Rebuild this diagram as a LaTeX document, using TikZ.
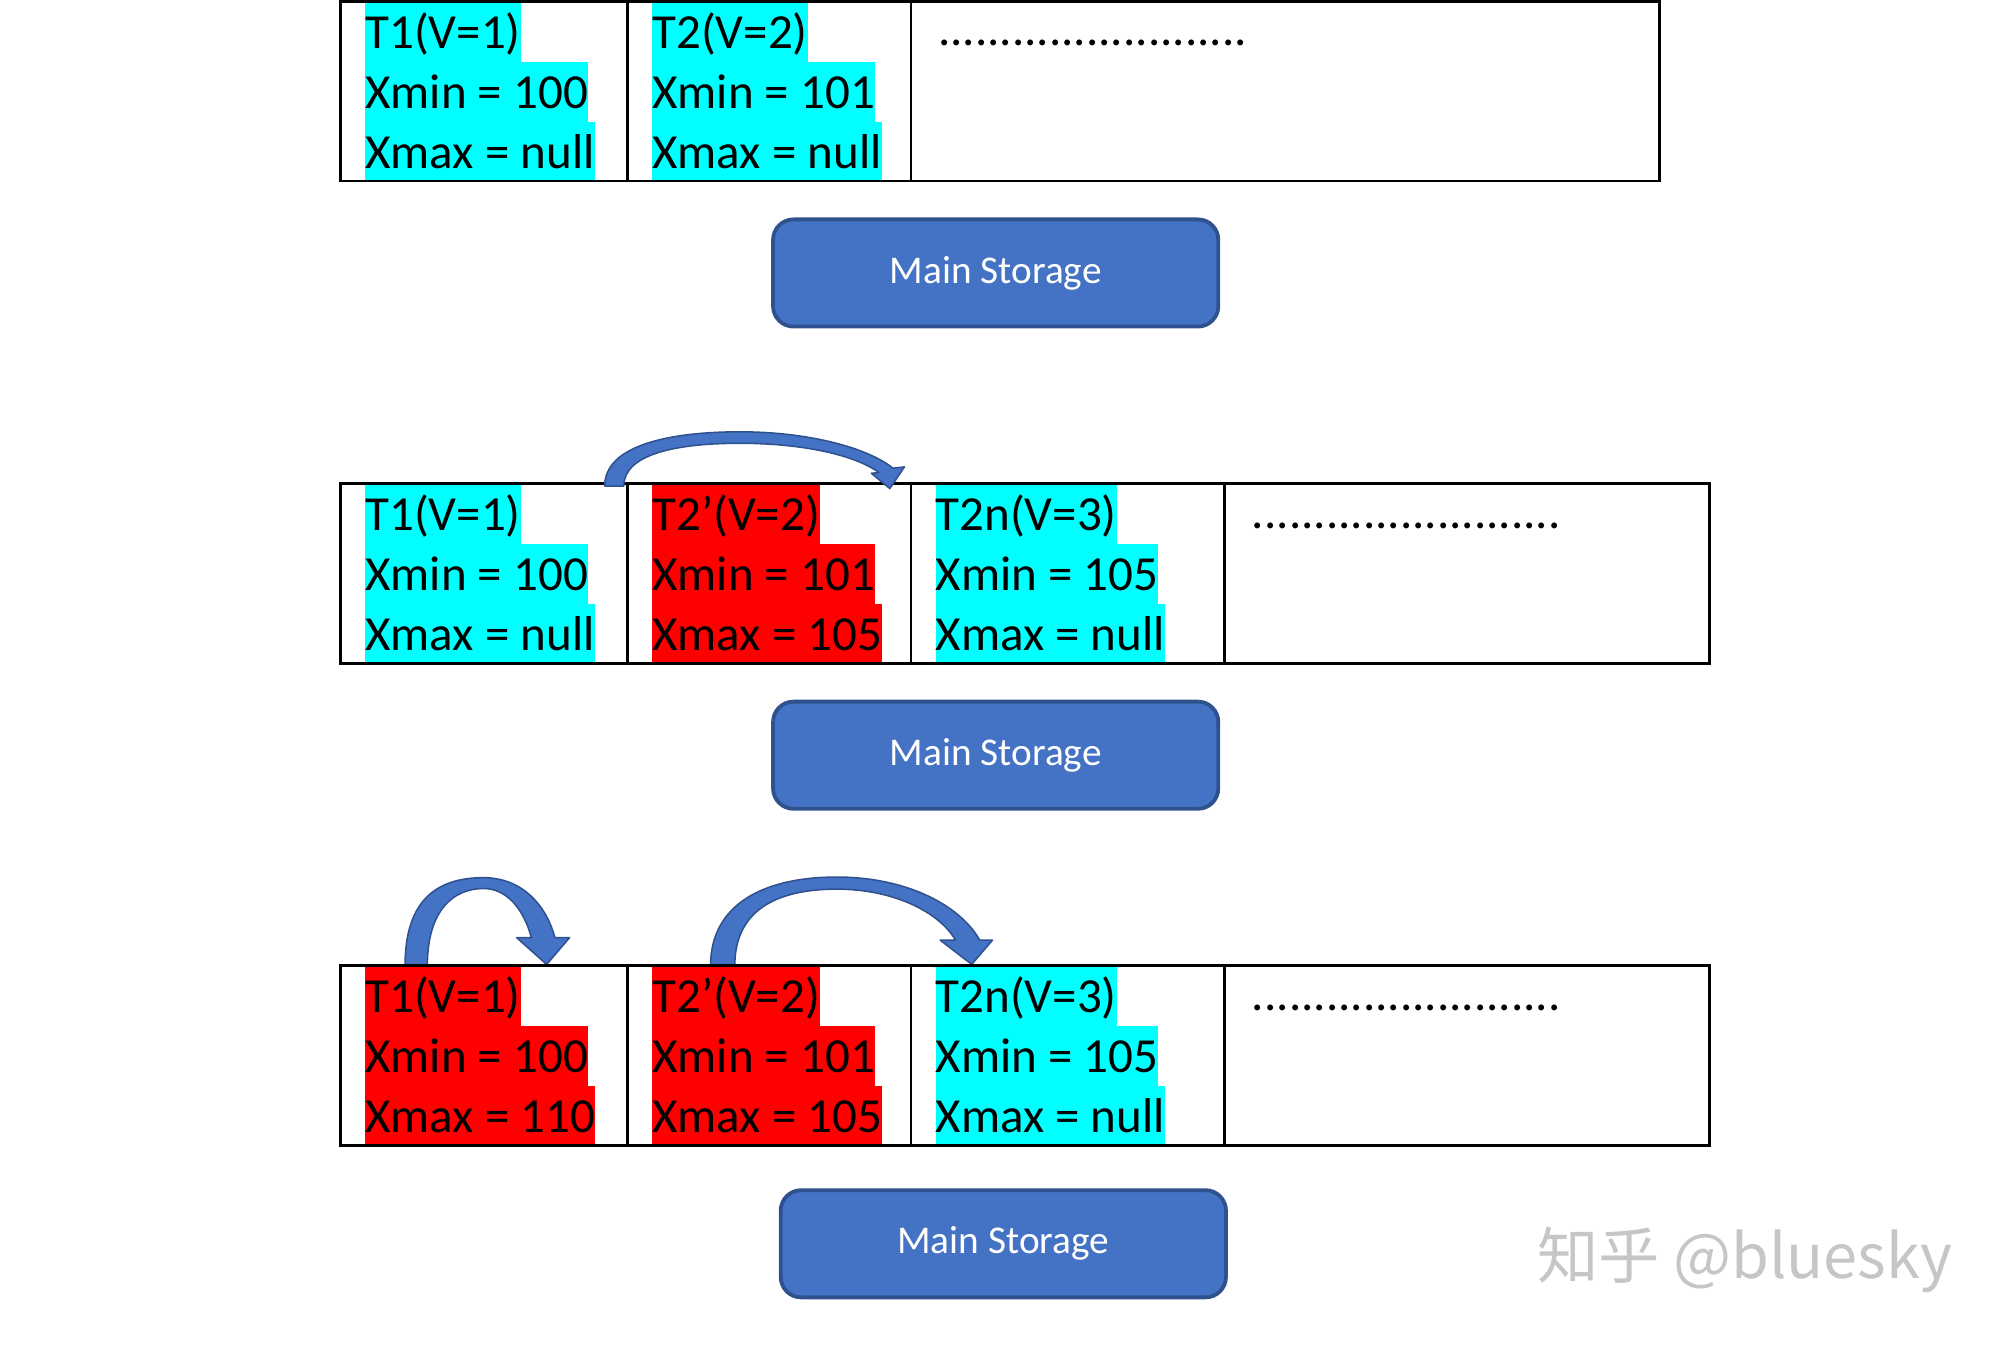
\documentclass[tikz,border=0pt]{standalone}
\usepackage{fontspec}
\setmainfont{Carlito}
\newfontfamily\cjkfont{Noto Sans CJK SC}
\definecolor{msblue}{HTML}{4472C4}
\definecolor{msedge}{HTML}{2F528F}
\definecolor{hlcyan}{RGB}{0,255,255}
\definecolor{hlred}{RGB}{255,0,0}
\begin{document}
\begin{tikzpicture}[x=0.5pt,y=-0.5pt,
  hl/.style={anchor=north west, inner sep=0pt, text height=18.2pt, text depth=5.3pt, font=\fontsize{19.2}{23.5}\selectfont},
  cy/.style={hl, fill=hlcyan},
  rd/.style={hl, fill=hlred},
  rowbox/.style={draw=black, line width=1pt},
  storage/.style={draw=msedge, fill=msblue, line width=1.5pt, rounded corners=8pt, minimum width=174.5pt, minimum height=42pt, text=white, font=\fontsize{15.4}{18}\selectfont},
  dotrow/.style={anchor=base west, inner sep=0pt, font=\fontsize{19.2}{23.5}\selectfont},
  blockarrow/.style={fill=msblue, draw=msedge, line width=0.6pt, line join=round},
  wmfont/.style={inner sep=0pt, font=\cjkfont\fontsize{24}{27}\selectfont}
]
\useasboundingbox (0,0) rectangle (1567,1057.5);

% ---------- Row 1 ----------
\node[cy] (a11) at (286,1) {T1(V=1)};
\node[cy] (a12) at (286,48) {Xmin = 100};
\node[cy] (a13) at (286,95) {Xmax = null};
\node[cy] (a21) at (511,1) {T2(V=2)};
\node[cy] (a22) at (511,48) {Xmin = 101};
\node[cy] (a23) at (511,95) {Xmax = null};
\node[dotrow] (adots) at (735,36) {.........................};
\draw[rowbox] (267,1) rectangle (1301,142);
\draw[rowbox] (492,1) -- (492,142);
\draw[rowbox] (714,1) -- (714,142);
\node[storage] (s1) at (780.5,214) {Main Storage};

% ---------- Row 2 ----------
\node[cy] (b11) at (286,379) {T1(V=1)};
\node[cy] (b12) at (286,426) {Xmin = 100};
\node[cy] (b13) at (286,473) {Xmax = null};
\node[rd] (b21) at (511,379) {T2’(V=2)};
\node[rd] (b22) at (511,426) {Xmin = 101};
\node[rd] (b23) at (511,473) {Xmax = 105};
\node[cy] (b31) at (733,379) {T2n(V=3)};
\node[cy] (b32) at (733,426) {Xmin = 105};
\node[cy] (b33) at (733,473) {Xmax = null};
\node[dotrow] (bdots) at (981,414) {.........................};
\draw[rowbox] (267,379) rectangle (1340,520);
\draw[rowbox] (492,379) -- (492,520);
\draw[rowbox] (714,379) -- (714,520);
\draw[rowbox] (960,379) -- (960,520);
\draw[blockarrow] (474,381) .. controls (474,349) and (525,338.5) .. (580,338.5)
  .. controls (634,338.5) and (680,351) .. (700,367) -- (709,366) -- (697.5,383) -- (683,371) -- (689,370.5)
  .. controls (671,357) and (630,347.5) .. (580,347.5)
  .. controls (530,347.5) and (489,356) .. (489,381) -- cycle;
\node[storage] (s2) at (780.5,592) {Main Storage};

% ---------- Row 3 ----------
\node[rd] (c11) at (286,757) {T1(V=1)};
\node[rd] (c12) at (286,804) {Xmin = 100};
\node[rd] (c13) at (286,851) {Xmax = 110};
\node[rd] (c21) at (511,757) {T2’(V=2)};
\node[rd] (c22) at (511,804) {Xmin = 101};
\node[rd] (c23) at (511,851) {Xmax = 105};
\node[cy] (c31) at (733,757) {T2n(V=3)};
\node[cy] (c32) at (733,804) {Xmin = 105};
\node[cy] (c33) at (733,851) {Xmax = null};
\node[dotrow] (cdots) at (981,792) {.........................};
\draw[blockarrow] (317.5,757) .. controls (317.5,706) and (342,688) .. (379,688)
  .. controls (411,688) and (429,712) .. (435,735) -- (446.5,735) -- (428.5,756) -- (405,735) -- (416.5,735)
  .. controls (411,714) and (398,696.5) .. (379,696.5)
  .. controls (355,696.5) and (335,714) .. (335,757) -- cycle;
\draw[blockarrow] (557,757) .. controls (557,708) and (600,687.5) .. (656,687.5)
  .. controls (711,687.5) and (753,710) .. (768,737) -- (778,737) -- (761.7,756) -- (737,737) -- (749,737)
  .. controls (737,716) and (702,697) .. (656,697)
  .. controls (608,697) and (576,714) .. (576,757) -- cycle;
\draw[rowbox] (267,757) rectangle (1340,898);
\draw[rowbox] (492,757) -- (492,898);
\draw[rowbox] (714,757) -- (714,898);
\draw[rowbox] (960,757) -- (960,898);
\node[storage] (s3) at (786.5,975) {Main Storage};

% ---------- watermark ----------
\node[wmfont, text=gray!45] (wm) at (1367.5,988) {知乎 @bluesky};
\end{tikzpicture}
\end{document}
